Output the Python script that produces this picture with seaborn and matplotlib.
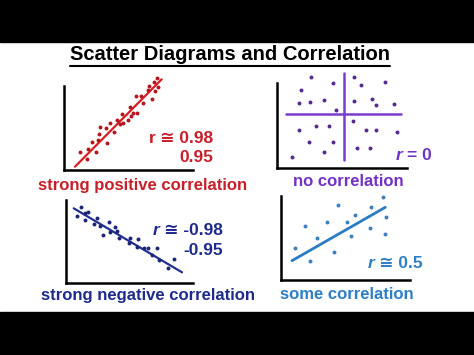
import numpy as np
import pandas as pd
import matplotlib
matplotlib.use('Agg')
import matplotlib.pyplot as plt
from matplotlib.patches import Rectangle
from matplotlib.lines import Line2D
import seaborn as sns

# Set style
sns.set_style('white')
plt.rcParams['font.family'] = ['Liberation Sans', 'DejaVu Sans']

W, H = 474, 355

# --- data (units = pixels from the corner of each little L-shaped axis) ---
pos_x = [16, 24.3, 22.7, 28.3, 31.7, 36, 35.3, 34.3, 41.7, 42.7, 46, 50.3, 52.7, 56, 57.7, 59.3,
         64.3, 66, 66.7, 69.3, 73.3, 72, 77, 78.7, 83.7, 85.3, 87.7, 90.3, 91, 93.3, 93.7]
pos_y = [18.3, 20.7, 10.7, 28.3, 18.3, 42.7, 36, 30, 41.7, 27.3, 47.3, 38.3, 50, 46, 56, 47.3,
         50, 62.7, 54, 56.7, 57.3, 74, 74, 66.7, 80, 84, 70.7, 88, 79.3, 91.7, 82.7]
pos_line_x = [11, 97.7]
pos_line_y = [3.3, 90.7]

none_x = [33.7, 56.3, 77, 84, 108, 24, 22, 32.7, 47, 59, 77.3, 94.7, 98.7, 117.3, 75.7,
          22, 38.7, 52.3, 88.7, 98.7, 119.7, 32, 56, 15.3, 47, 79.7, 92.7]
none_y = [90.7, 84.7, 91.3, 83, 85.7, 78, 64.7, 66.3, 68, 58, 67, 68.7, 63.3, 64.3, 47,
          38, 42.3, 42, 37.7, 38, 35.7, 26, 26, 11, 16, 19.7, 20.3]
cross_h_x = [8.7, 124]
cross_h_y = [54.3, 54.3]
cross_v_x = [67, 67]
cross_v_y = [8, 95.3]

neg_x = [11, 15, 18.7, 22, 19.3, 27.7, 31, 34.3, 36.7, 42.7, 44.3, 49.3, 51, 53.3, 62.7, 64.3,
         71, 72, 77.7, 82, 86, 91, 93.3, 102, 107.7]
neg_y = [67.3, 75.7, 69.7, 70.7, 63, 59, 65.3, 57.3, 48, 61.3, 50.7, 56.3, 52, 45.3, 39.7, 44.7,
         35.7, 43.7, 34.7, 35.3, 28, 34.7, 23, 15.3, 24]
neg_line_x = [7.7, 116]
neg_line_y = [74.7, 10.7]

some_x = [13.7, 23.7, 29.3, 36.3, 46, 52.7, 57, 66, 69.7, 74.3, 89, 89.7, 102, 105.3, 103.7]
some_y = [31.7, 54, 19.3, 41.7, 57.7, 27.7, 74.7, 58.3, 44.3, 64.7, 51.7, 72.7, 83.3, 62.7, 46]
some_line_x = [11, 104.3]
some_line_y = [19.3, 72.7]

labels = ['strong positive correlation', 'no correlation',
          'strong negative correlation', 'some correlation']


def px_axes(fig, left, bottom, width, height):
    """Axes placed in pixel units (top-down y), data units = pixels"""
    ax = fig.add_axes([left / W, 1 - bottom / H, width / W, height / H])
    ax.set_xlim(0, width)
    ax.set_ylim(0, height)
    ax.set_xticks([])
    ax.set_yticks([])
    ax.patch.set_alpha(0)
    for side in ['top', 'right']:
        ax.spines[side].set_visible(False)
    for side in ['left', 'bottom']:
        ax.spines[side].set_color('black')
        ax.spines[side].set_linewidth(1.8)
    return ax


def ftext(fig, x, y, s, **kw):
    kw.setdefault('va', 'baseline')
    kw.setdefault('fontweight', 'bold')
    return fig.text(x / W, 1 - y / H, s, **kw)


def r_text(fig, right, y, rest, color, italic=True):
    """'r' + relation, right aligned; the r sits one space left of the rest"""
    t = ftext(fig, right, y, rest, ha='right', fontsize=12.5, color=color)
    bb = t.get_window_extent(renderer=fig.canvas.get_renderer())
    ftext(fig, bb.x0 - 4.5, y, 'r', ha='right', fontsize=12.5, color=color,
          style='italic' if italic else 'normal')


def panel(fig, box, xs, ys, lx, ly, pt_color, line_color, lw=1.6):
    ax = px_axes(fig, *box)
    df = pd.DataFrame({'x': xs, 'y': ys})
    sns.scatterplot(data=df, x='x', y='y', ax=ax, color=pt_color, s=8,
                    linewidth=0, clip_on=False, zorder=3)
    sns.lineplot(x=lx, y=ly, ax=ax, color=line_color, lw=lw,
                 estimator=None, sort=False, clip_on=False, zorder=2)
    ax.set_xlabel('')
    ax.set_ylabel('')
    return ax


fig = plt.figure(figsize=(W / 100, H / 100), dpi=100)

# letterbox bars
fig.add_artist(Rectangle((0, 1 - 42 / H), 1, 42 / H, transform=fig.transFigure,
                         color='black', zorder=0))
fig.add_artist(Rectangle((0, 0), 1, 43 / H, transform=fig.transFigure,
                         color='black', zorder=0))

# title with underline
title = ftext(fig, 230, 60.5, 'Scatter Diagrams and Correlation', ha='center',
              fontsize=14.5, color='black')

# strong positive
red, red_pt = '#c8202a', '#b3161f'
panel(fig, (64, 170, 129, 84), pos_x, pos_y, pos_line_x, pos_line_y, red_pt, '#d81e24')
r_text(fig, 213, 143, '\u2245 0.98', red, italic=False)
ftext(fig, 213, 162, '0.95', ha='right', fontsize=12.5, color=red)
ftext(fig, 143, 190, labels[0], ha='center', fontsize=12, color=red)

# no correlation
purple, purple_pt = '#7232c4', '#552a8e'
ax2 = panel(fig, (277, 168, 130, 85), none_x, none_y, cross_h_x, cross_h_y,
            purple_pt, '#7a3ccf', lw=1.8)
sns.lineplot(x=cross_v_x, y=cross_v_y, ax=ax2, color='#7a3ccf', lw=1.8,
             estimator=None, sort=False, clip_on=False, zorder=2)
r_text(fig, 432, 159.5, '= 0', purple)
ftext(fig, 348, 186, labels[1], ha='center', fontsize=12, color=purple)

# strong negative
navy, navy_pt = '#1f2b8c', '#1c2576'
panel(fig, (66, 283, 127, 83), neg_x, neg_y, neg_line_x, neg_line_y, navy_pt, '#22308f')
r_text(fig, 223, 235, '\u2245 -0.98', navy)
ftext(fig, 223, 255, '-0.95', ha='right', fontsize=12.5, color=navy)
ftext(fig, 148, 300, labels[2], ha='center', fontsize=12, color=navy)

# some correlation
blue, blue_pt = '#2d7fc6', '#3a80c0'
panel(fig, (281, 280, 129, 84), some_x, some_y, some_line_x, some_line_y, blue_pt, '#2a7cc4', lw=2)
r_text(fig, 423, 267.5, '\u2245 0.5', blue)
ftext(fig, 347, 299, labels[3], ha='center', fontsize=12, color=blue)

# underline the title
renderer = fig.canvas.get_renderer()
bb = title.get_window_extent(renderer=renderer)
uy = 1 - 65.5 / H
fig.add_artist(Line2D([bb.x0 / W, bb.x1 / W], [uy, uy], transform=fig.transFigure,
                      color='black', lw=1.5))

fig.savefig('out.png', dpi=100)
plt.close(fig)
